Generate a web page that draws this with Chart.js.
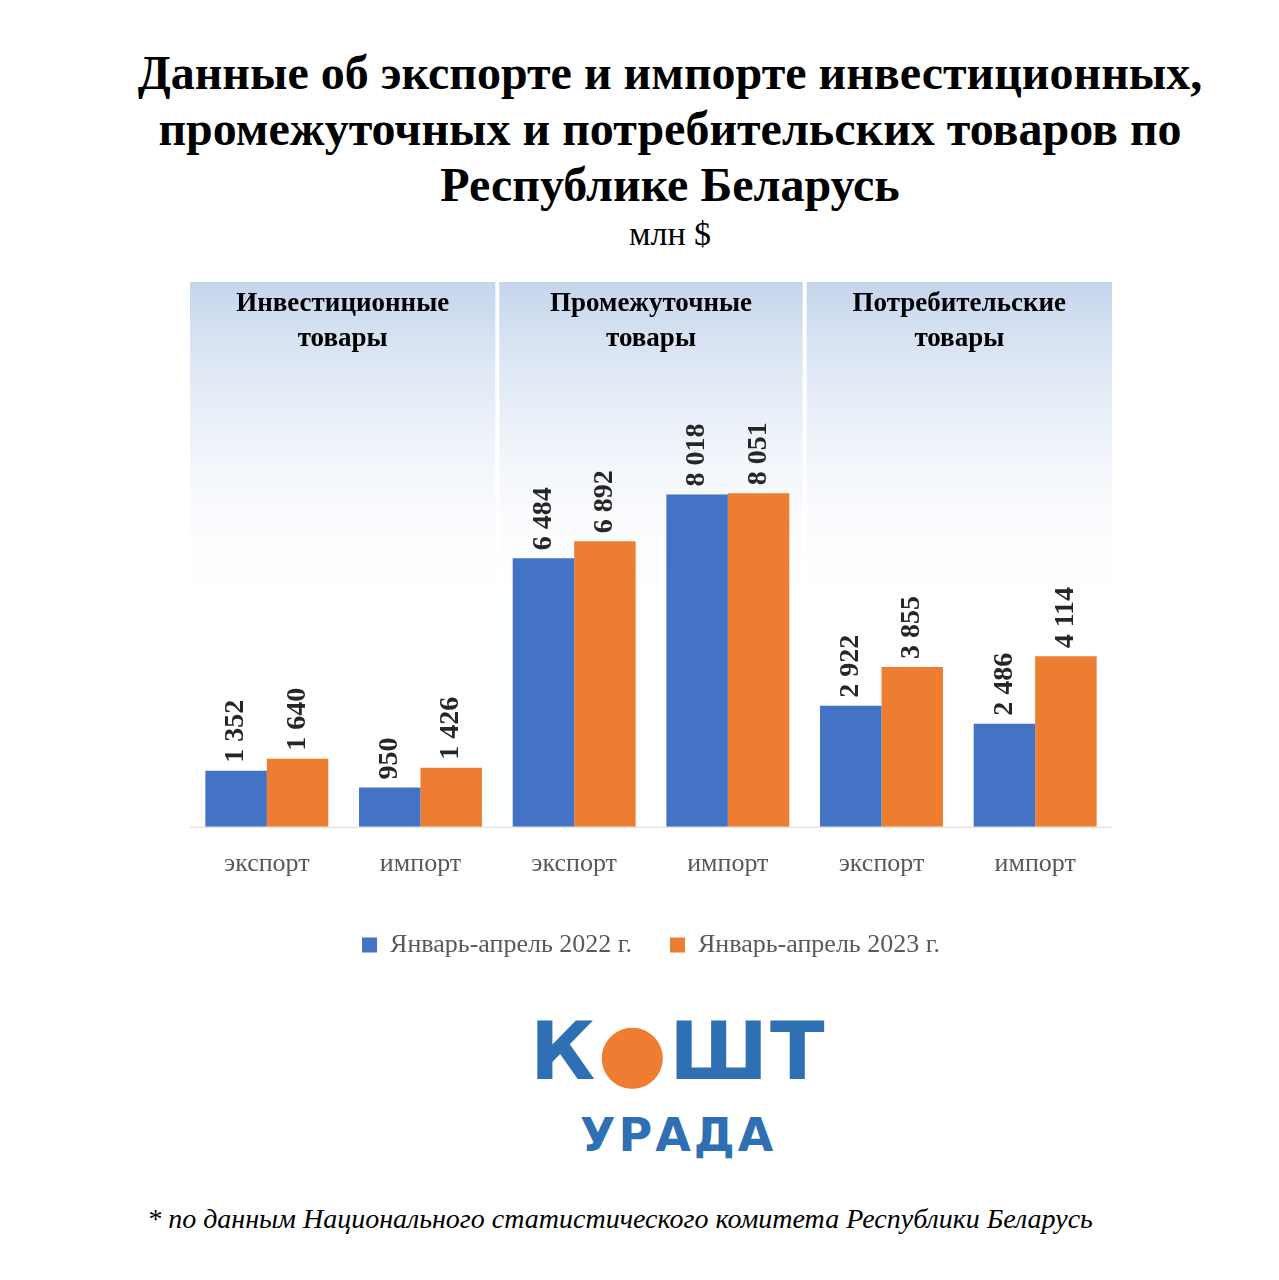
<!DOCTYPE html>
<html><head><meta charset="utf-8">
<script src="https://cdn.jsdelivr.net/npm/chart.js@4"></script>
<style>
body{margin:0;width:1279px;height:1280px;background:#fff;position:relative;font-family:"Liberation Serif",serif;overflow:hidden}
.t{position:absolute;left:0;width:1340px;text-align:center;color:#000}
#title{top:45px;font-weight:bold;font-size:48px;line-height:56px}
#unit{top:215px;font-size:34px}
#wrap{position:absolute;left:0;top:270px;width:1279px;height:698px}
#logo1{position:absolute;left:530px;top:1005px;font-family:"DejaVu Sans";font-weight:bold;font-size:80px;color:#2f6fb3;letter-spacing:2px}
#logo2{position:absolute;left:580px;top:1108px;font-family:"DejaVu Sans";font-weight:bold;font-size:46px;color:#2f6fb3;letter-spacing:3px}
#foot{top:1203px;font-style:italic;font-size:28px;width:1240px}
</style></head><body>
<div class="t" id="title">Данные об экспорте и импорте инвестиционных,<br>промежуточных и потребительских товаров по<br>Республике Беларусь</div>
<div class="t" id="unit">млн $</div>
<div id="wrap"><canvas id="c"></canvas></div>
<div id="logo1">К<span style="color:#ee7d31">●</span>ШТ</div>
<div id="logo2">УРАДА</div>
<div class="t" id="foot">* по данным Национального статистического комитета Республики Беларусь</div>
<script>
const categories=["экспорт","импорт","экспорт","импорт","экспорт","импорт"];
const groups=[["Инвестиционные","товары"],["Промежуточные","товары"],["Потребительские","товары"]];
const series2022=[1352,950,6484,8018,2922,2486];
const series2023=[1640,1426,6892,8051,3855,4114];
const seriesNames=["Январь-апрель 2022 г.","Январь-апрель 2023 г."];
const fmt=v=>String(v).replace(/\B(?=(\d{3})+(?!\d))/g," ");
const bg={id:'bg',beforeDatasetsDraw(ch){const{ctx,chartArea:a}=ch;const w=(a.right-a.left)/3;
 for(let i=0;i<3;i++){const l=a.left+i*w+(i?2:0),r=a.left+(i+1)*w-(i<2?2:0);
  const g=ctx.createLinearGradient(0,a.top,0,a.top+340);g.addColorStop(0,'#c5d5ec');g.addColorStop(1,'rgba(255,255,255,0)');
  ctx.fillStyle=g;ctx.fillRect(l,a.top,r-l,340);
  ctx.fillStyle='#000';ctx.font='bold 27px "Liberation Serif"';ctx.textAlign='center';ctx.textBaseline='middle';
  ctx.fillText(groups[i][0],(l+r)/2,a.top+22);ctx.fillText(groups[i][1],(l+r)/2,a.top+57);}
 ctx.strokeStyle='#d9d9d9';ctx.lineWidth=1;ctx.beginPath();ctx.moveTo(a.left,a.bottom+0.5);ctx.lineTo(a.right,a.bottom+0.5);ctx.stroke();},
 afterDatasetsDraw(ch){const ctx=ch.ctx;ch.data.datasets.forEach((d,i)=>{ch.getDatasetMeta(i).data.forEach((b,j)=>{
  ctx.save();ctx.translate(b.x,b.y-8);ctx.rotate(-Math.PI/2);ctx.fillStyle='#262626';ctx.font='bold 28px "Liberation Serif"';ctx.textAlign='left';ctx.textBaseline='middle';ctx.fillText(fmt(d.data[j]),0,0);ctx.restore();});});}};
new Chart(document.getElementById('c'),{type:'bar',
 data:{labels:categories,datasets:[{label:seriesNames[0],data:series2022,backgroundColor:'#4472c4'},{label:seriesNames[1],data:series2023,backgroundColor:'#ed7d31'}]},
 options:{responsive:true,maintainAspectRatio:false,animation:false,
  layout:{padding:{left:190,right:167,top:12,bottom:0}},
  datasets:{bar:{categoryPercentage:0.8,barPercentage:1}},
  scales:{y:{display:false,min:0,max:13150},x:{grid:{display:false},border:{display:false},ticks:{color:'#595959',font:{family:'"Liberation Serif"',size:26},padding:14}}},
  plugins:{tooltip:{enabled:false},legend:{position:'bottom',labels:{color:'#595959',font:{family:'"Liberation Serif"',size:26},boxWidth:15,boxHeight:15,padding:38}}}},
 plugins:[bg]});
</script></body></html>
